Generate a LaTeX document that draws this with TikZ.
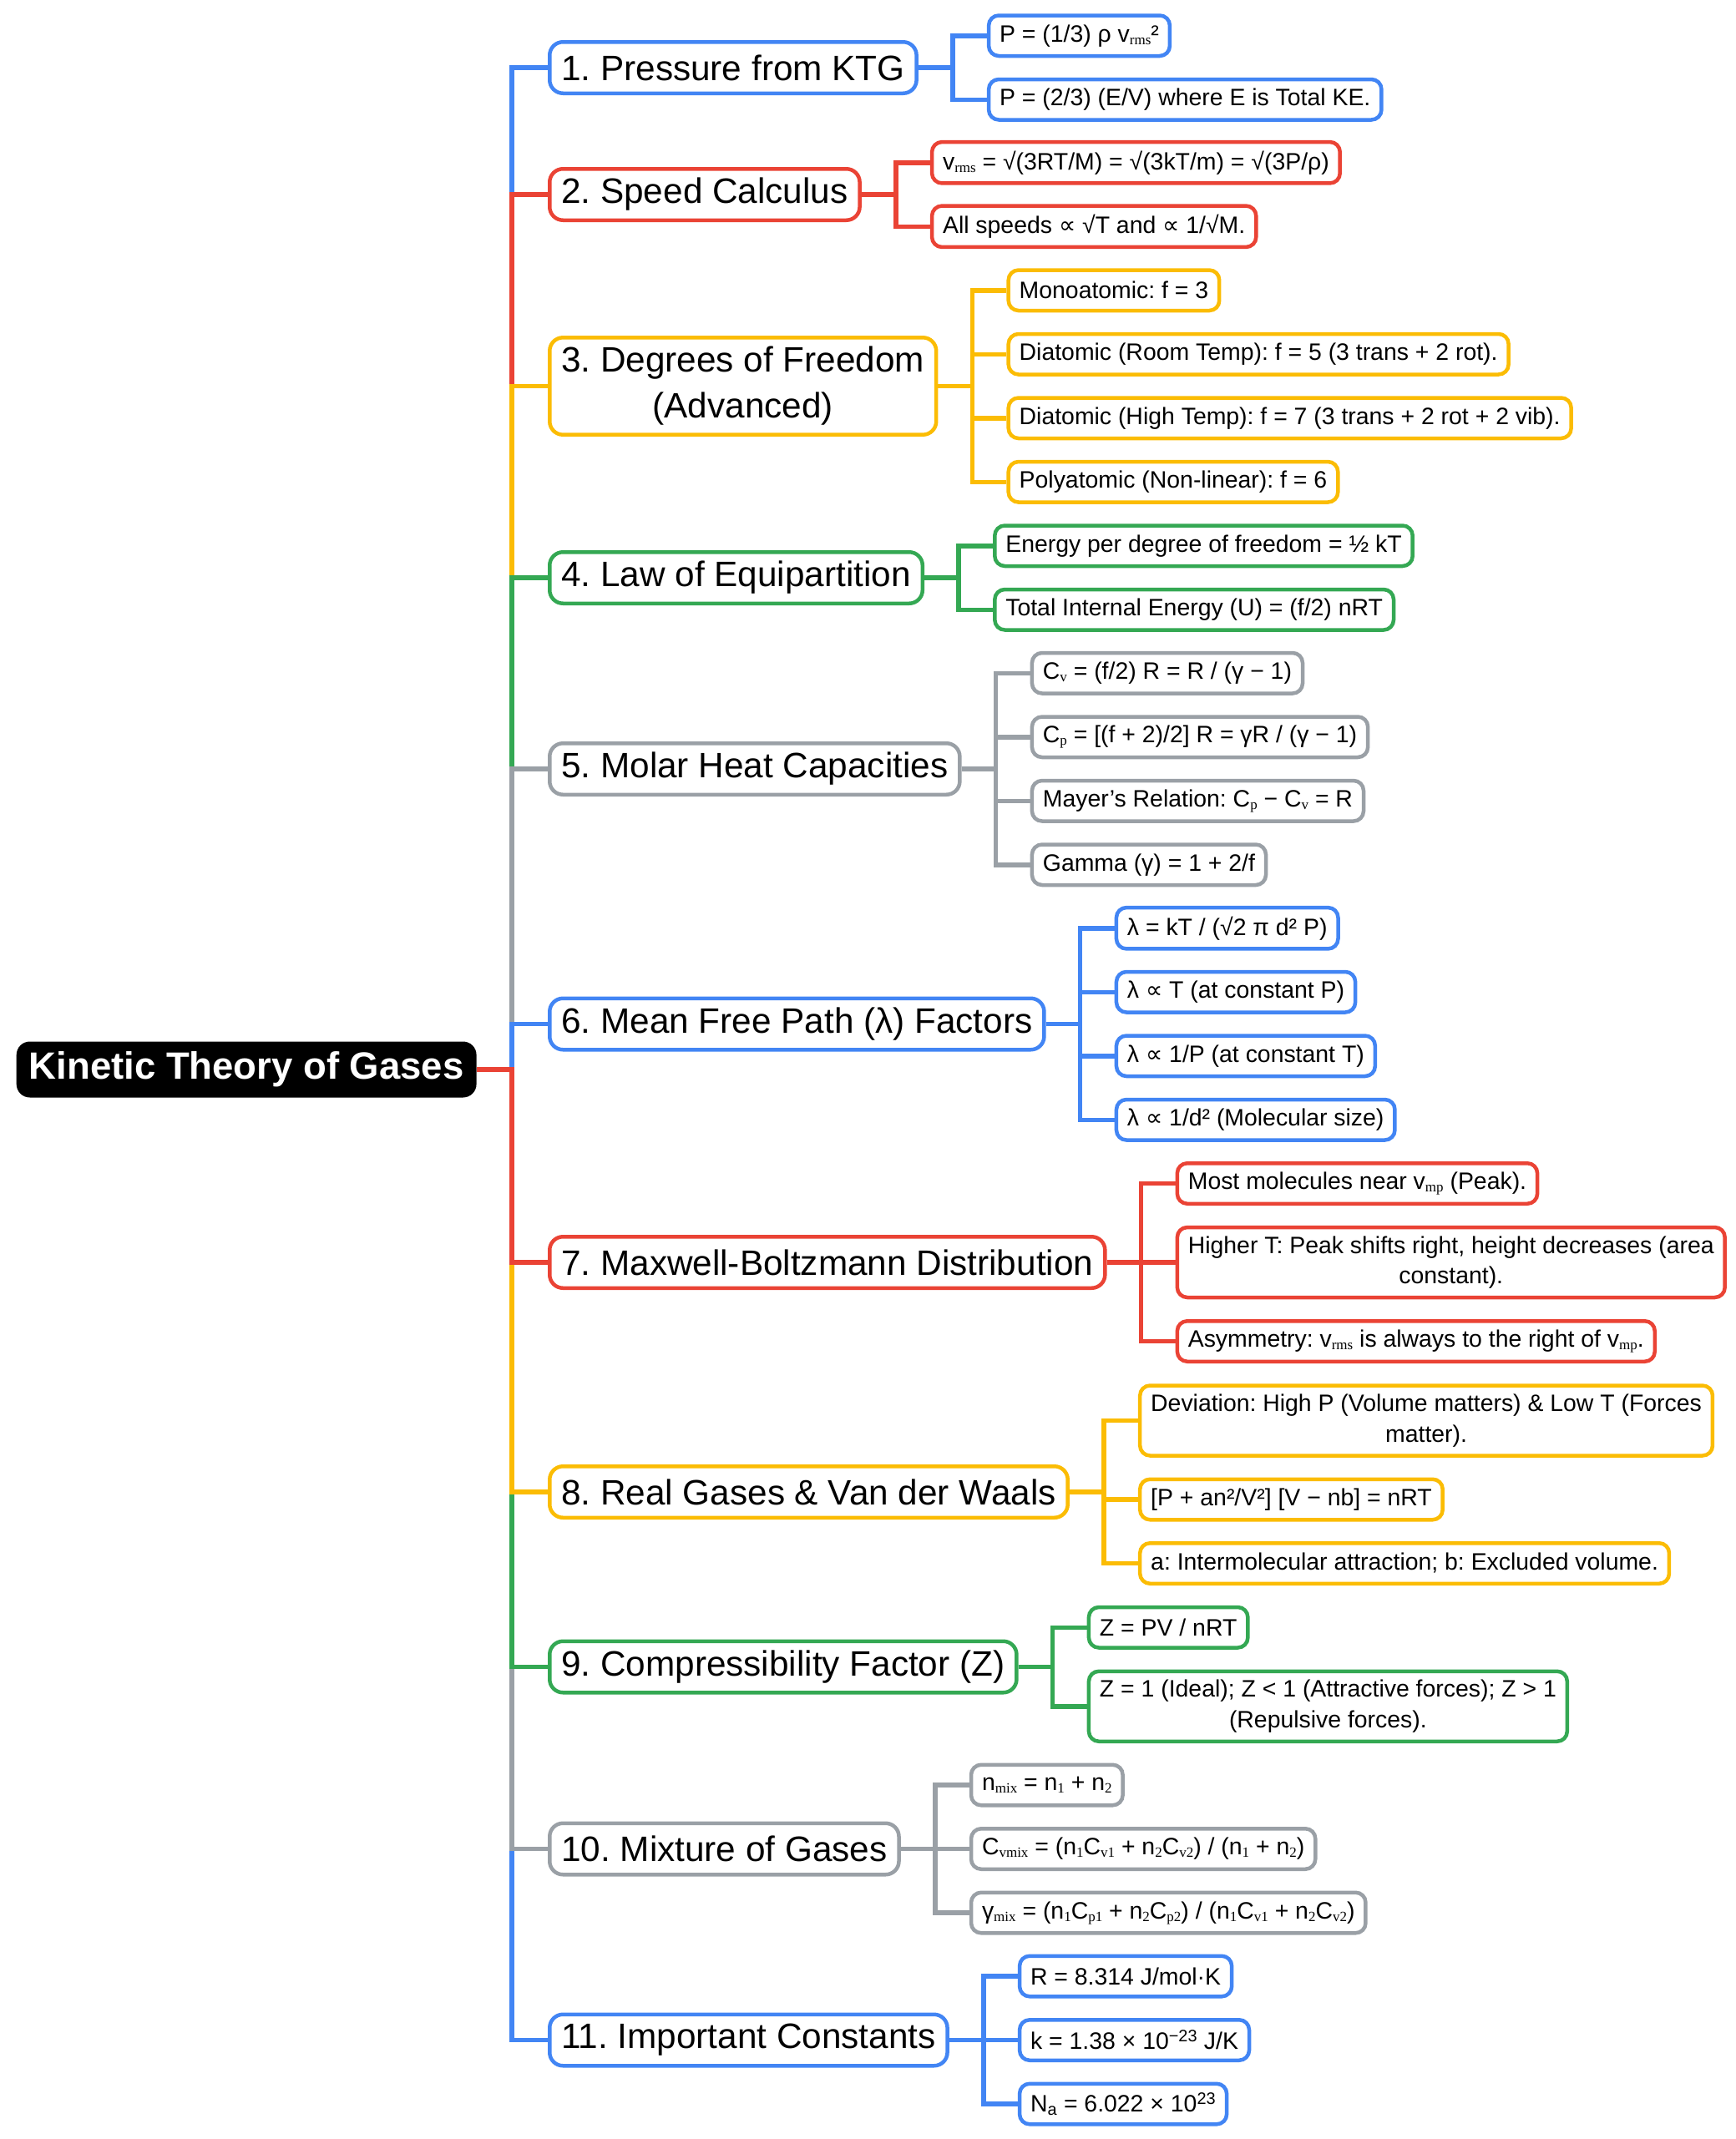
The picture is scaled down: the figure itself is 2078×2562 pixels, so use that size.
\documentclass[tikz,border=0pt]{standalone}
\usepackage{fontspec}
\setmainfont{Liberation Sans}
\newfontfamily\subserif{Liberation Serif}
\newfontfamily\propfont{DejaVu Sans}
\usetikzlibrary{positioning}
\definecolor{mapblue}{RGB}{66,133,244}
\definecolor{mapred}{RGB}{234,67,53}
\definecolor{mapyellow}{RGB}{251,188,4}
\definecolor{mapgreen}{RGB}{52,168,83}
\definecolor{mapgray}{RGB}{154,160,166}
\newcommand{\subtxt}[1]{\raisebox{-3pt}{\subserif\fontsize{17}{17}\selectfont #1}}
\newcommand{\prp}{{\propfont ∝}}
\frenchspacing

\begin{document}
\begin{tikzpicture}[x=1pt, y=-1pt,
    root/.style={fill=black, text=white, rounded corners=16pt, inner xsep=15pt,
          minimum height=67pt, anchor=west, font=\bfseries\fontsize{45.5}{54}\selectfont},
    branch/.style={draw=#1, fill=white, line width=4.5pt, rounded corners=16pt,
          inner xsep=14pt, inner ysep=11pt, minimum height=61.5pt, align=center,
          anchor=west, font=\fontsize{42.3}{55}\selectfont},
    leaf/.style={draw=#1, fill=white, line width=4.5pt, rounded corners=12pt,
          inner xsep=13pt, inner ysep=10.5pt, minimum height=48.5pt, align=center,
          font=\fontsize{28.4}{36.5}\selectfont},
    link/.style={draw=#1, line width=5.5pt},
    node distance=82pt]
    \useasboundingbox (0,0) rectangle (2078,2562);

    \node[root] (root) at (19.5,1281) {Kinetic Theory of Gases};

    \node[branch=mapblue] (b1) at (656,81) {1. Pressure from KTG};
    \node[branch=mapred] (b2) at (656,233) {2. Speed Calculus};
    \node[branch=mapyellow] (b3) at (656,462.5) {3. Degrees of Freedom\\(Advanced)};
    \node[branch=mapgreen] (b4) at (656,692) {4. Law of Equipartition};
    \node[branch=mapgray] (b5) at (656,921) {5. Molar Heat Capacities};
    \node[branch=mapblue] (b6) at (656,1226.5) {6. Mean Free Path (λ) Factors};
    \node[branch=mapred] (b7) at (656,1512) {7. Maxwell-Boltzmann Distribution};
    \node[branch=mapyellow] (b8) at (656,1787) {8. Real Gases \& Van der Waals};
    \node[branch=mapgreen] (b9) at (656,1996.5) {9. Compressibility Factor (Z)};
    \node[branch=mapgray] (b10) at (656,2214.5) {10. Mixture of Gases};
    \node[branch=mapblue] (b11) at (656,2443.5) {11. Important Constants};

    \node[leaf=mapblue, right=of b1, yshift=38.25pt] (l1a) {P = (1/3) ρ v\subtxt{rms}²};
    \node[leaf=mapblue, right=of b1, yshift=-38.25pt] (l1b) {P = (2/3) (E/V) where E is Total KE.};

    \node[leaf=mapred, right=of b2, yshift=38.25pt] (l2a) {v\subtxt{rms} = √(3RT/M) = √(3kT/m) = √(3P/ρ)};
    \node[leaf=mapred, right=of b2, yshift=-38.25pt] (l2b) {All speeds \prp{} √T and \prp{} 1/√M.};

    \node[leaf=mapyellow, right=of b3, yshift=114.75pt] (l3a) {Monoatomic: f = 3};
    \node[leaf=mapyellow, right=of b3, yshift=38.25pt] (l3b) {Diatomic (Room Temp): f = 5 (3 trans + 2 rot).};
    \node[leaf=mapyellow, right=of b3, yshift=-38.25pt] (l3c) {Diatomic (High Temp): f = 7 (3 trans + 2 rot + 2 vib).};
    \node[leaf=mapyellow, right=of b3, yshift=-114.75pt] (l3d) {Polyatomic (Non-linear): f = 6};

    \node[leaf=mapgreen, right=of b4, yshift=38.25pt] (l4a) {Energy per degree of freedom = ½ kT};
    \node[leaf=mapgreen, right=of b4, yshift=-38.25pt] (l4b) {Total Internal Energy (U) = (f/2) nRT};

    \node[leaf=mapgray, right=of b5, yshift=114.75pt] (l5a) {C\subtxt{v} = (f/2) R = R / (γ − 1)};
    \node[leaf=mapgray, right=of b5, yshift=38.25pt] (l5b) {C\subtxt{p} = {[}(f + 2)/2] R = γR / (γ − 1)};
    \node[leaf=mapgray, right=of b5, yshift=-38.25pt] (l5c) {Mayer’s Relation: C\subtxt{p} − C\subtxt{v} = R};
    \node[leaf=mapgray, right=of b5, yshift=-114.75pt] (l5d) {Gamma (γ) = 1 + 2/f};

    \node[leaf=mapblue, right=of b6, yshift=114.75pt] (l6a) {λ = kT / (√2 π d² P)};
    \node[leaf=mapblue, right=of b6, yshift=38.25pt] (l6b) {λ \prp{} T (at constant P)};
    \node[leaf=mapblue, right=of b6, yshift=-38.25pt] (l6c) {λ \prp{} 1/P (at constant T)};
    \node[leaf=mapblue, right=of b6, yshift=-114.75pt] (l6d) {λ \prp{} 1/d² (Molecular size)};

    \node[leaf=mapred, right=of b7, yshift=94.5pt] (l7a) {Most molecules near v\subtxt{mp} (Peak).};
    \node[leaf=mapred, right=of b7] (l7b) {Higher T: Peak shifts right, height decreases (area\\constant).};
    \node[leaf=mapred, right=of b7, yshift=-94.5pt] (l7c) {Asymmetry: v\subtxt{rms} is always to the right of v\subtxt{mp}.};

    \node[leaf=mapyellow, right=of b8, yshift=85.5pt] (l8a) {Deviation: High P (Volume matters) \& Low T (Forces\\matter).};
    \node[leaf=mapyellow, right=of b8, yshift=-9pt] (l8b) {{[}P + an²/V²] [V − nb] = nRT};
    \node[leaf=mapyellow, right=of b8, yshift=-85.5pt] (l8c) {a: Intermolecular attraction; b: Excluded volume.};

    \node[leaf=mapgreen, right=of b9, yshift=47.25pt] (l9a) {Z = PV / nRT};
    \node[leaf=mapgreen, right=of b9, yshift=-47.25pt] (l9b) {Z = 1 (Ideal); Z < 1 (Attractive forces); Z > 1\\(Repulsive forces).};

    \node[leaf=mapgray, right=of b10, yshift=76.5pt] (l10a) {n\subtxt{mix} = n\subtxt{1} + n\subtxt{2}};
    \node[leaf=mapgray, right=of b10] (l10b) {C\subtxt{vmix} = (n\subtxt{1}C\subtxt{v1} + n\subtxt{2}C\subtxt{v2}) / (n\subtxt{1} + n\subtxt{2})};
    \node[leaf=mapgray, right=of b10, yshift=-76.5pt] (l10c) {γ\subtxt{mix} = (n\subtxt{1}C\subtxt{p1} + n\subtxt{2}C\subtxt{p2}) / (n\subtxt{1}C\subtxt{v1} + n\subtxt{2}C\subtxt{v2})};

    \node[leaf=mapblue, right=of b11, yshift=76.5pt] (l11a) {R = 8.314 J/mol·K};
    \node[leaf=mapblue, right=of b11] (l11b) {k = 1.38 × 10\textsuperscript{−23} J/K};
    \node[leaf=mapblue, right=of b11, yshift=-76.5pt] (l11c) {N\textsubscript{a} = 6.022 × 10\textsuperscript{23}};

    \foreach \b/\c in {b1/mapblue, b2/mapred, b3/mapyellow, b4/mapgreen, b5/mapgray, b6/mapblue,
                       b11/mapblue, b10/mapgray, b9/mapgreen, b8/mapyellow, b7/mapred}
        \draw[link=\c] (root.east) -| ([xshift=-43pt]\b.west) -- (\b.west);

    \foreach \l in {l1a,l1b} \draw[link=mapblue] (b1.east) -| ([xshift=-41pt]\l.west) -- (\l.west);
    \foreach \l in {l2a,l2b} \draw[link=mapred] (b2.east) -| ([xshift=-41pt]\l.west) -- (\l.west);
    \foreach \l in {l3a,l3b,l3c,l3d} \draw[link=mapyellow] (b3.east) -| ([xshift=-41pt]\l.west) -- (\l.west);
    \foreach \l in {l4a,l4b} \draw[link=mapgreen] (b4.east) -| ([xshift=-41pt]\l.west) -- (\l.west);
    \foreach \l in {l5a,l5b,l5c,l5d} \draw[link=mapgray] (b5.east) -| ([xshift=-41pt]\l.west) -- (\l.west);
    \foreach \l in {l6a,l6b,l6c,l6d} \draw[link=mapblue] (b6.east) -| ([xshift=-41pt]\l.west) -- (\l.west);
    \foreach \l in {l7a,l7b,l7c} \draw[link=mapred] (b7.east) -| ([xshift=-41pt]\l.west) -- (\l.west);
    \foreach \l in {l8a,l8b,l8c} \draw[link=mapyellow] (b8.east) -| ([xshift=-41pt]\l.west) -- (\l.west);
    \foreach \l in {l9a,l9b} \draw[link=mapgreen] (b9.east) -| ([xshift=-41pt]\l.west) -- (\l.west);
    \foreach \l in {l10a,l10b,l10c} \draw[link=mapgray] (b10.east) -| ([xshift=-41pt]\l.west) -- (\l.west);
    \foreach \l in {l11a,l11b,l11c} \draw[link=mapblue] (b11.east) -| ([xshift=-41pt]\l.west) -- (\l.west);
\end{tikzpicture}
\end{document}
